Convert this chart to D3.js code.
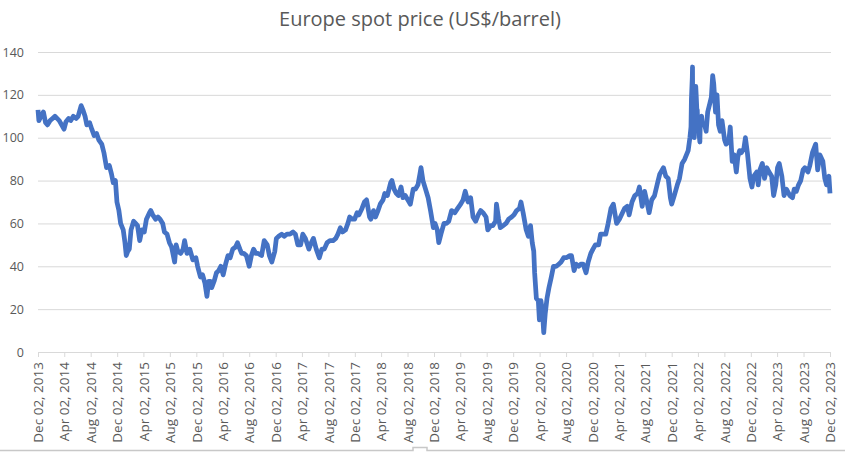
<!DOCTYPE html>
<html lang="en">
  <head>
    <meta charset="UTF-8" />
    <title>Europe spot price (US$/barrel)</title>
    <style>
      body {
        margin: 0;
        background: #fff;
      }
      svg text {
        font-family: "Open Sans", "Liberation Sans", sans-serif;
        fill: #595959;
      }
    </style>
  </head>
  <body>
    <svg id="svg" width="845" height="452"></svg>
    <script src="https://cdn.jsdelivr.net/npm/d3@7"></script>
    <script>
      // Brent spot price
      const dates = [
        "2013-12-02","2013-12-06","2013-12-16","2013-12-27","2014-01-06","2014-01-15","2014-01-27","2014-02-07",
        "2014-02-18","2014-02-28","2014-03-10","2014-03-21","2014-04-01","2014-04-10","2014-04-22","2014-05-02",
        "2014-05-14","2014-05-27","2014-06-05","2014-06-19","2014-06-27","2014-07-07","2014-07-15","2014-07-28",
        "2014-08-07","2014-08-18","2014-08-29","2014-09-08","2014-09-22","2014-10-02","2014-10-14","2014-10-27",
        "2014-11-06","2014-11-14","2014-11-24","2014-12-01","2014-12-10","2014-12-18","2014-12-30","2015-01-07",
        "2015-01-13","2015-01-20","2015-01-27","2015-02-04","2015-02-16","2015-02-25","2015-03-06","2015-03-16",
        "2015-03-26","2015-04-06","2015-04-16","2015-04-30","2015-05-06","2015-05-15","2015-05-28","2015-06-08",
        "2015-06-18","2015-06-30","2015-07-08","2015-07-20","2015-07-31","2015-08-10","2015-08-24","2015-08-31",
        "2015-09-08","2015-09-21","2015-10-02","2015-10-09","2015-10-20","2015-11-02","2015-11-16","2015-11-30",
        "2015-12-08","2015-12-21","2015-12-31","2016-01-11","2016-01-20","2016-01-28","2016-02-05","2016-02-11",
        "2016-02-22","2016-03-04","2016-03-14","2016-03-24","2016-04-04","2016-04-15","2016-04-26","2016-05-06",
        "2016-05-18","2016-05-31","2016-06-09","2016-06-20","2016-06-28","2016-07-08","2016-07-20","2016-08-02",
        "2016-08-12","2016-08-22","2016-09-01","2016-09-12","2016-09-28","2016-10-10","2016-10-24","2016-11-03",
        "2016-11-14","2016-11-28","2016-12-05","2016-12-16","2016-12-30","2017-01-10","2017-01-23","2017-02-06",
        "2017-02-20","2017-03-03","2017-03-14","2017-03-27","2017-04-06","2017-04-18","2017-05-04","2017-05-15",
        "2017-05-25","2017-06-07","2017-06-21","2017-07-03","2017-07-14","2017-07-27","2017-08-09","2017-08-24",
        "2017-09-05","2017-09-15","2017-09-26","2017-10-06","2017-10-20","2017-10-31","2017-11-08","2017-11-20",
        "2017-12-01","2017-12-12","2017-12-21","2018-01-04","2018-01-15","2018-01-25","2018-02-08","2018-02-14",
        "2018-02-26","2018-03-07","2018-03-19","2018-03-29","2018-04-11","2018-04-19","2018-05-01","2018-05-16",
        "2018-05-22","2018-06-01","2018-06-11","2018-06-21","2018-07-03","2018-07-12","2018-07-23","2018-08-03",
        "2018-08-15","2018-08-28","2018-09-07","2018-09-19","2018-09-28","2018-10-03","2018-10-12","2018-10-24",
        "2018-11-05","2018-11-16","2018-11-29","2018-12-07","2018-12-17","2018-12-24","2019-01-03","2019-01-17",
        "2019-01-29","2019-02-08","2019-02-21","2019-03-08","2019-03-21","2019-04-04","2019-04-15","2019-04-25",
        "2019-05-08","2019-05-20","2019-05-31","2019-06-12","2019-06-24","2019-07-05","2019-07-16","2019-07-30",
        "2019-08-07","2019-08-20","2019-08-30","2019-09-12","2019-09-16","2019-09-26","2019-10-04","2019-10-17",
        "2019-10-30","2019-11-11","2019-11-25","2019-12-06","2019-12-18","2019-12-31","2020-01-07","2020-01-17",
        "2020-01-31","2020-02-10","2020-02-20","2020-02-28","2020-03-06","2020-03-10","2020-03-18","2020-03-27",
        "2020-04-01","2020-04-08","2020-04-15","2020-04-21","2020-04-28","2020-05-06","2020-05-15","2020-05-26",
        "2020-06-05","2020-06-17","2020-06-30","2020-07-10","2020-07-22","2020-08-05","2020-08-18","2020-08-27",
        "2020-09-08","2020-09-17","2020-09-29","2020-10-09","2020-10-20","2020-11-02","2020-11-12","2020-11-24",
        "2020-12-04","2020-12-15","2020-12-30","2021-01-08","2021-01-20","2021-02-01","2021-02-12","2021-02-25",
        "2021-03-08","2021-03-23","2021-04-05","2021-04-19","2021-04-29","2021-05-11","2021-05-20","2021-06-02",
        "2021-06-15","2021-06-28","2021-07-06","2021-07-19","2021-07-30","2021-08-10","2021-08-20","2021-09-01",
        "2021-09-14","2021-09-28","2021-10-08","2021-10-25","2021-11-05","2021-11-16","2021-11-26","2021-12-02",
        "2021-12-14","2021-12-28","2022-01-07","2022-01-19","2022-01-31","2022-02-08","2022-02-16","2022-02-24",
        "2022-03-01","2022-03-03","2022-03-07","2022-03-08","2022-03-09","2022-03-11","2022-03-14","2022-03-16",
        "2022-03-18","2022-03-21","2022-03-23","2022-03-25","2022-03-28","2022-03-30","2022-04-01","2022-04-05",
        "2022-04-08","2022-04-11","2022-04-13","2022-04-19","2022-04-22","2022-04-27","2022-05-03","2022-05-10",
        "2022-05-17","2022-05-27","2022-06-03","2022-06-09","2022-06-14","2022-06-22","2022-06-29","2022-07-06",
        "2022-07-14","2022-07-22","2022-08-03","2022-08-10","2022-08-22","2022-08-29","2022-09-07","2022-09-16",
        "2022-09-26","2022-10-03","2022-10-11","2022-10-19","2022-10-31","2022-11-07","2022-11-16","2022-11-28",
        "2022-12-07","2022-12-15","2022-12-29","2023-01-05","2023-01-13","2023-01-24","2023-02-03","2023-02-14",
        "2023-02-24","2023-03-08","2023-03-17","2023-03-27","2023-04-04","2023-04-12","2023-04-24","2023-05-04",
        "2023-05-15","2023-05-31","2023-06-12","2023-06-20","2023-06-30","2023-07-10","2023-07-20","2023-07-31",
        "2023-08-08","2023-08-22","2023-08-31","2023-09-12","2023-09-27","2023-10-06","2023-10-16","2023-10-30",
        "2023-11-08","2023-11-16","2023-11-27","2023-12-02"
      ];
      const prices = [
        113,108,110,112,107,106,108,109,
        110,109,108,106,104,107.5,109,108,
        110,109,110,115,113,110,106,107,
        104,101,102,99,97,93,86,87,
        83,79,80,70,66,60,57,51,
        45,47,48,57,61,60,59,52,
        57,56,62,65,66,64,62,63,
        62,60,56,55,51,49,42,50,
        47,46,48,52,46,48,43,44,
        40,35,36,32,26,33,33,30,
        33,37,38,40,36,41,45,44,
        48,49,51,48,46,46,45,40,
        45,48,46,46,45,52,50,45,
        42,47,53,54,55,54,55,55,
        56,55,50,50,55,53,48,51,
        53,48,44,48,48,51,52,52,
        53,55,58,56,57,60,63,62,
        62,65,64,67,70,71,63,62,
        66,63,66,69,71,74,73,79,
        80,76,74,73,77,72,73,71,
        69,76,76,78,83,86,80,76,
        72,66,58,60,57,51,55,60,
        60,61,66,65,67,69,71,75,
        70,72,63,61,64,66,65,63,
        57,59,59,61,69,62,58,59,
        60,62,63,64,66,67,70,65,
        57,54,59,51,47,37,25,24,
        15,24,19,9,18,25,30,35,
        40,40,41,42,44,44,45,45,
        38,41,40,41,41,37,42,46,
        48,50,50,55,55,55,60,67,
        69,60,62,65,67,68,64,70,
        73,74,77,68,75,70,65,71,
        73,79,83,86,82,81,72,69,
        73,78,81,88,90,92,94,100,
        105,118,128,133,112,113,105,100,
        110,118,124,120,113,113,106,108,
        101,98,108,110,107,106,106,103,
        112,116,119,129,125,112,120,106,
        103,108,99,97,98,105,89,92,
        84,91,94,93,95,100,93,81,
        77,82,84,78,85,88,81,86,
        84,82,73,78,86,88,82,73,
        76,73,72,76,75,78,80,85,
        86,84,87,93,97,85,92,89,
        81,78,82,74
      ];
      const yTicks = [0, 20, 40, 60, 80, 100, 120, 140];
      const xTickDates = [
        "2013-12-02","2014-04-02","2014-08-02","2014-12-02","2015-04-02","2015-08-02","2015-12-02","2016-04-02",
        "2016-08-02","2016-12-02","2017-04-02","2017-08-02","2017-12-02","2018-04-02","2018-08-02","2018-12-02",
        "2019-04-02","2019-08-02","2019-12-02","2020-04-02","2020-08-02","2020-12-02","2021-04-02","2021-08-02",
        "2021-12-02","2022-04-02","2022-08-02","2022-12-02","2023-04-02","2023-08-02","2023-12-02"
      ];

      const parse = d3.timeParse("%Y-%m-%d");
      const n = Math.min(dates.length, prices.length);
      if (dates.length !== prices.length) console.log("length mismatch", dates.length, prices.length);
      const data = dates.slice(0, n).map((d, i) => ({ date: parse(d), value: prices[i] }));
      const ticks = xTickDates.map(parse);

      const svg = d3.select("#svg");
      const plotLeft = 38, plotRight = 831, plotTop = 52, plotBottom = 352;

      const x = d3.scaleTime()
        .domain([parse("2013-12-02"), parse("2023-12-02")])
        .range([plotLeft, 830]);
      const y = d3.scaleLinear().domain([0, 140]).range([plotBottom, plotTop]);

      // title
      svg.append("text")
        .attr("x", 420)
        .attr("y", 26)
        .attr("text-anchor", "middle")
        .style("font-size", "20px")
        .text("Europe spot price (US$/barrel)");

      // gridlines + y labels
      const yAxis = svg.append("g")
        .attr("transform", `translate(${plotLeft},0)`)
        .call(d3.axisLeft(y).tickValues(yTicks).tickSize(-(plotRight - plotLeft)).tickPadding(14));
      yAxis.select(".domain").remove();
      yAxis.selectAll(".tick line").attr("stroke", "#d9d9d9").attr("stroke-width", 1);
      yAxis.selectAll(".tick text").style("font-size", "12.5px").attr("fill", "#595959");

      // x axis
      const xAxis = svg.append("g")
        .attr("transform", `translate(0,${plotBottom})`)
        .call(d3.axisBottom(x).tickValues(ticks).tickSize(5).tickFormat(d3.timeFormat("%b %d, %Y")));
      xAxis.select(".domain").attr("stroke", "#d9d9d9").attr("d", `M${plotLeft},0.5H${plotRight}`);
      xAxis.selectAll(".tick line").attr("stroke", "#d9d9d9");
      xAxis.selectAll(".tick text")
        .style("font-size", "13.5px")
        .attr("fill", "#595959")
        .attr("text-anchor", "end")
        .attr("transform", "rotate(-90)")
        .attr("x", -10)
        .attr("y", 0)
        .attr("dy", "0.35em");

      // price line
      const line = d3.line()
        .x((d) => x(d.date))
        .y((d) => y(d.value));

      svg.append("path")
        .datum(data)
        .attr("fill", "none")
        .attr("stroke", "#4472c4")
        .attr("stroke-width", 4.75)
        .attr("stroke-linejoin", "round")
        .attr("d", line);

      // chart frame edge at the bottom
      svg.append("path")
        .attr("d", "M0,450.5H413V447.5H427V450.5H845")
        .attr("fill", "none")
        .attr("stroke", "#c8c8c8")
        .attr("stroke-width", 1.5);
    </script>
  </body>
</html>
